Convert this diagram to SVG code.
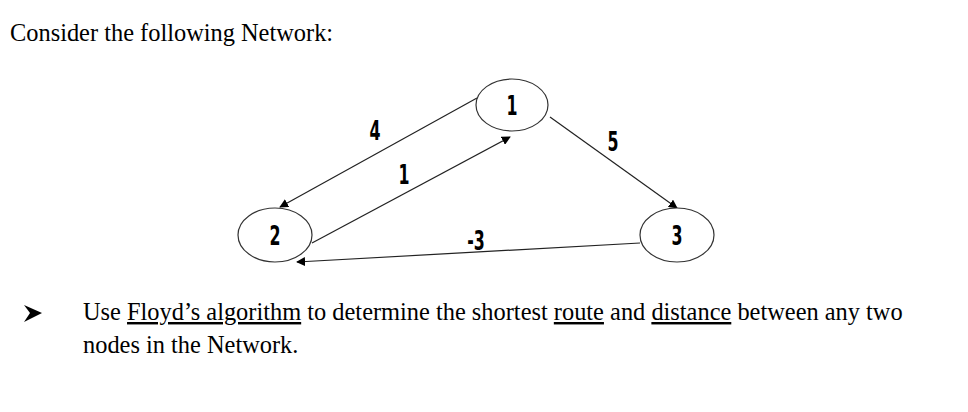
<svg xmlns="http://www.w3.org/2000/svg" width="968" height="412" viewBox="0 0 968 412">
<style>
.t{font-family:"Liberation Serif",serif;font-size:24.4px;fill:#000}
.n{fill:#fff;stroke:#333;stroke-width:1.2}
.l{font-family:"DejaVu Sans","Liberation Sans",sans-serif;font-weight:bold;font-size:22px;fill:#000;text-anchor:middle}
.e{stroke:#222;stroke-width:1.2;fill:none;marker-end:url(#a)}
</style>
<defs><marker id="a" viewBox="0 0 10 10" refX="9" refY="5" markerWidth="9" markerHeight="9" orient="auto" markerUnits="userSpaceOnUse"><path d="M0,0L10,5L0,10z" fill="#000"/></marker></defs>
<rect width="968" height="412" fill="#fff"/>
<text class="t" x="10" y="41">Consider the following Network:</text>
<g id="edges">
<line class="e" x1="477" y1="98" x2="280" y2="207"/>
<line class="e" x1="312" y1="243" x2="510" y2="137"/>
<line class="e" x1="550" y1="117" x2="677" y2="208"/>
<line class="e" x1="640" y1="243" x2="297" y2="262"/>
<text class="l" transform="translate(375,140) scale(0.72,1.2)">4</text>
<text class="l" transform="translate(404,184) scale(0.72,1.2)">1</text>
<text class="l" transform="translate(613,151) scale(0.72,1.2)">5</text>
<text class="l" transform="translate(476,250) scale(0.72,1.2)">-3</text>
</g>
<g id="node1"><ellipse class="n" cx="512" cy="105" rx="36" ry="26"/><text class="l" transform="translate(512,115) scale(0.72,1.2)">1</text></g>
<g id="node2"><ellipse class="n" cx="275" cy="235" rx="37" ry="27"/><text class="l" transform="translate(275,245) scale(0.72,1.2)">2</text></g>
<g id="node3"><ellipse class="n" cx="677" cy="235" rx="37" ry="27"/><text class="l" transform="translate(677,245) scale(0.72,1.2)">3</text></g>
<g id="note">
<path d="M24,305L42,313L24,322L30,313z" fill="#000"/>
<text class="t" x="83" y="320">Use <tspan text-decoration="underline">Floyd’s algorithm</tspan> to determine the shortest <tspan text-decoration="underline">route</tspan> and <tspan text-decoration="underline">distance</tspan> between any two</text>
<text class="t" x="83" y="353">nodes in the Network.</text>
</g>
</svg>
